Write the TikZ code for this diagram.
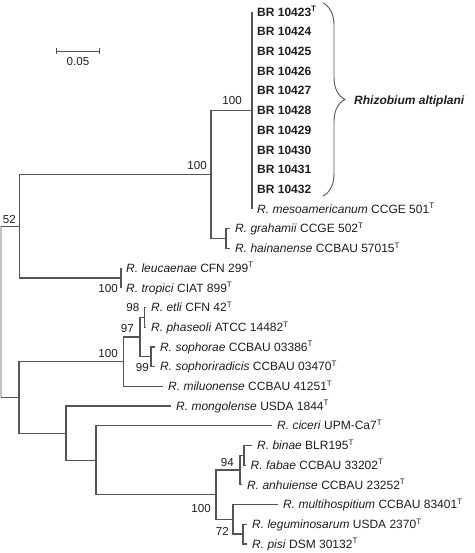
\documentclass[tikz,border=0pt]{standalone}
\usepackage{fontspec}
\setmainfont{Liberation Sans}
\usetikzlibrary{
  arrows.meta,
  positioning,
  calc,
  decorations.pathreplacing
}
\definecolor{rhizLine}{RGB}{85,85,85}
\definecolor{rhizRoot}{RGB}{195,195,195}
\definecolor{rhizText}{RGB}{30,30,30}
\tikzset{
  rhizbranch/.style={
    draw=rhizLine,
    line width=1.2pt
  },
  rhizleaf/.style={
    anchor=west,
    inner xsep=5pt,
    inner ysep=0pt,
    text height=8.4pt,
    text depth=0pt,
    text=rhizText,
    font=\fontsize{12}{13}\selectfont
  },
  rhizstrain/.style={
    rhizleaf,
    font=\fontsize{12}{13}\selectfont\bfseries
  },
  rhizboot/.style={
    inner sep=0pt,
    text height=8.4pt,
    text depth=0pt,
    text=rhizText,
    font=\fontsize{11.6}{13}\selectfont
  },
  rhizbrace/.style={
    draw=rhizLine,
    line width=0.9pt,
    decorate,
    decoration={brace, amplitude=22pt, aspect=0.5}
  }
}
\newcommand{\rsp}[2]{\textit{R. #1} #2\textsuperscript{T}}

\begin{document}
\begin{tikzpicture}[x=1pt, y=-1pt]
  \useasboundingbox (0,0) rectangle (474,553);

  % internal nodes of the tree
  \coordinate (root) at (1,311.8);
  \coordinate (n52)  at (19.5,226.3);
  \coordinate (n211) at (211,174.5);
  \coordinate (nAlt) at (252,110.5);
  \coordinate (nGra) at (226,238.6);
  \coordinate (nLeu) at (121,278);
  \coordinate (nL)   at (19,397.4);
  \coordinate (nMil) at (123.5,361.7);
  \coordinate (n97)  at (140,337);
  \coordinate (nEtl) at (144.5,317.4);
  \coordinate (nSop) at (151,356.8);
  \coordinate (nMon) at (66,433.1);
  \coordinate (nCic) at (96,460.2);
  \coordinate (nBin) at (216,494.6);
  \coordinate (n94)  at (240,470);
  \coordinate (nFab) at (244,455.3);
  \coordinate (nMul) at (233,519.3);
  \coordinate (nLeg) at (243,534);

  % Rhizobium altiplani strains
  \node[rhizstrain] (br23) at (252,12)    {BR 10423\textsuperscript{T}};
  \node[rhizstrain] (br24) at (252,31.7)  {BR 10424};
  \node[rhizstrain] (br25) at (252,51.4)  {BR 10425};
  \node[rhizstrain] (br26) at (252,71.1)  {BR 10426};
  \node[rhizstrain] (br27) at (252,90.8)  {BR 10427};
  \node[rhizstrain] (br28) at (252,110.5) {BR 10428};
  \node[rhizstrain] (br29) at (252,130.2) {BR 10429};
  \node[rhizstrain] (br30) at (252,149.9) {BR 10430};
  \node[rhizstrain] (br31) at (252,169.6) {BR 10431};
  \node[rhizstrain] (br32) at (252,189.3) {BR 10432};

  % reference species
  \node[rhizleaf] (meso)  at (252,209)   {\rsp{mesoamericanum}{CCGE 501}};
  \node[rhizleaf] (grah)  at (230,228.7) {\rsp{grahamii}{CCGE 502}};
  \node[rhizleaf] (hain)  at (230,248.4) {\rsp{hainanense}{CCBAU 57015}};
  \node[rhizleaf] (leuc)  at (121,268.1) {\rsp{leucaenae}{CFN 299}};
  \node[rhizleaf] (trop)  at (121,287.8) {\rsp{tropici}{CIAT 899}};
  \node[rhizleaf] (etli)  at (146,307.5) {\rsp{etli}{CFN 42}};
  \node[rhizleaf] (phas)  at (146,327.2) {\rsp{phaseoli}{ATCC 14482}};
  \node[rhizleaf] (soph)  at (155,346.9) {\rsp{sophorae}{CCBAU 03386}};
  \node[rhizleaf] (sord)  at (155,366.6) {\rsp{sophoriradicis}{CCBAU 03470}};
  \node[rhizleaf] (milu)  at (163,386.3) {\rsp{miluonense}{CCBAU 41251}};
  \node[rhizleaf] (mong)  at (171,406)   {\rsp{mongolense}{USDA 1844}};
  \node[rhizleaf] (cice)  at (272,425.7) {\rsp{ciceri}{UPM-Ca7}};
  \node[rhizleaf] (bina)  at (252,445.4) {\rsp{binae}{BLR195}};
  \node[rhizleaf] (faba)  at (245.5,465.1) {\rsp{fabae}{CCBAU 33202}};
  \node[rhizleaf] (anhu)  at (242,484.8) {\rsp{anhuiense}{CCBAU 23252}};
  \node[rhizleaf] (mult)  at (278,504.5) {\rsp{multihospitium}{CCBAU 83401}};
  \node[rhizleaf] (legu)  at (247,524.2) {\rsp{leguminosarum}{USDA 2370}};
  \node[rhizleaf] (pisi)  at (247,543.9) {\rsp{pisi}{DSM 30132}};

  % branches
  \draw[rhizbranch, draw=rhizRoot] (root |- n52) -- (root |- nL);
  \draw[rhizbranch] (root |- n52) -- (n52);
  \draw[rhizbranch] (root |- nL) -- (nL);

  \draw[rhizbranch] (n52) |- (n211);
  \draw[rhizbranch] (n52) |- (nLeu);
  \draw[rhizbranch] (n211) |- (nAlt);
  \draw[rhizbranch] (n211) |- (nGra);
  \foreach \leaf in {br23,br24,br25,br26,br27,br28,br29,br30,br31,br32,meso}
    \draw[rhizbranch] (nAlt) |- (\leaf.west);
  \draw[rhizbranch] (nGra) |- (grah.west);
  \draw[rhizbranch] (nGra) |- (hain.west);
  \draw[rhizbranch] (nLeu) |- (leuc.west);
  \draw[rhizbranch] (nLeu) |- (trop.west);

  \draw[rhizbranch] (nL) |- (nMil);
  \draw[rhizbranch] (nL) |- (nMon);
  \draw[rhizbranch] (nMil) |- (n97);
  \draw[rhizbranch] (nMil) |- (milu.west);
  \draw[rhizbranch] (n97) |- (nEtl);
  \draw[rhizbranch] (n97) |- (nSop);
  \draw[rhizbranch] (nEtl) |- (etli.west);
  \draw[rhizbranch] (nEtl) |- (phas.west);
  \draw[rhizbranch] (nSop) |- (soph.west);
  \draw[rhizbranch] (nSop) |- (sord.west);

  \draw[rhizbranch] (nMon) |- (mong.west);
  \draw[rhizbranch] (nMon) |- (nCic);
  \draw[rhizbranch] (nCic) |- (cice.west);
  \draw[rhizbranch] (nCic) |- (nBin);
  \draw[rhizbranch] (nBin) |- (n94);
  \draw[rhizbranch] (nBin) |- (nMul);
  \draw[rhizbranch] (n94) |- (nFab);
  \draw[rhizbranch] (n94) |- (anhu.west);
  \draw[rhizbranch] (nFab) |- (bina.west);
  \draw[rhizbranch] (nFab) |- (faba.west);
  \draw[rhizbranch] (nMul) |- (mult.west);
  \draw[rhizbranch] (nMul) |- (nLeg);
  \draw[rhizbranch] (nLeg) |- (legu.west);
  \draw[rhizbranch] (nLeg) |- (pisi.west);

  % bootstrap values
  \node[rhizboot, anchor=east] (b52)   at ($(n52)+(-3.5,-7)$)    {52};
  \node[rhizboot, anchor=east] (b211)  at ($(n211)+(-4,-9.5)$)   {100};
  \node[rhizboot, anchor=east] (bAlt)  at ($(nAlt)+(-10,-10.5)$) {100};
  \node[rhizboot, anchor=east] (bLeu)  at ($(nLeu)+(-3,10)$)     {100};
  \node[rhizboot, anchor=east] (bEtl)  at ($(nEtl)+(-5,-10.3)$)  {98};
  \node[rhizboot, anchor=east] (b97)   at ($(n97)+(-6,-9)$)      {97};
  \node[rhizboot, anchor=east] (bMil)  at ($(nMil)+(-5.5,-8.7)$) {100};
  \node[rhizboot, anchor=east] (bSop)  at ($(nSop)+(-2,10.3)$)   {99};
  \node[rhizboot, anchor=east] (bBin)  at ($(nBin)+(-5,13.4)$)   {100};
  \node[rhizboot, anchor=east] (b94)   at ($(n94)+(-6,-8)$)      {94};
  \node[rhizboot, anchor=east] (bMul)  at ($(nMul)+(-4,11.7)$)   {72};

  % species brace
  \coordinate (braceTop) at (323,3);
  \coordinate (braceBot) at (323,196);
  \draw[rhizbrace] (braceTop) -- (braceBot);
  \node[rhizleaf, font=\fontsize{12}{13}\selectfont\bfseries\itshape] (altiplani)
    at (349,100) {Rhizobium altiplani};

  % scale bar
  \coordinate (sbL) at (56,51);
  \coordinate (sbR) at (100,51);
  \draw[rhizbranch, line width=0.9pt, {Bar[width=6pt]}-{Bar[width=6pt]}] (sbL) -- (sbR);
  \node[rhizboot, below=6pt of {$(sbL)!0.5!(sbR)$}] (sbText) {0.05};
\end{tikzpicture}
\end{document}
